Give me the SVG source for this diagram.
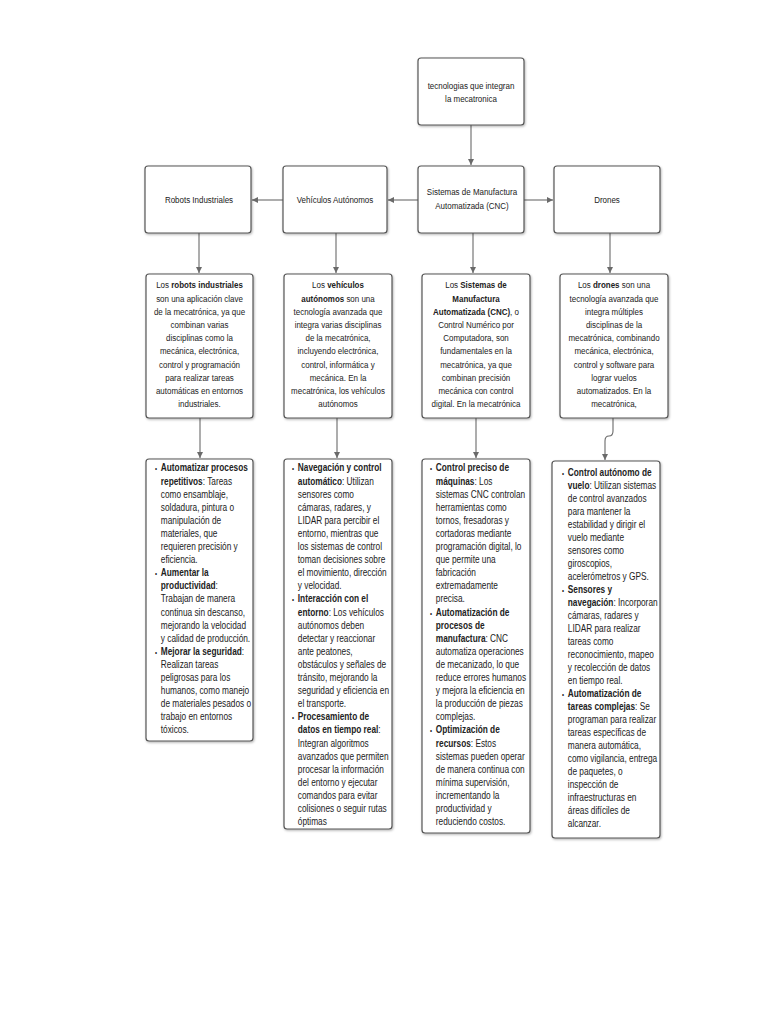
<svg xmlns="http://www.w3.org/2000/svg" width="768" height="1024" viewBox="0 0 768 1024">
<defs>
<style>
.box{fill:#fff;stroke:#555;stroke-width:1.2;filter:url(#sh)}
.t{font-family:"Liberation Sans",Arial,sans-serif;font-size:9.6px;fill:#222}
.t3{font-family:"Liberation Sans",Arial,sans-serif;font-size:10px;fill:#222}
.m{text-anchor:middle}
.b{font-weight:bold}
.bu{font-size:7px}
.c{fill:none;stroke:#6a6a6a;stroke-width:1.1;marker-end:url(#ah)}
</style>
<filter id="sh" x="-10%" y="-10%" width="130%" height="130%">
<feDropShadow dx="0.8" dy="1.2" stdDeviation="0.8" flood-color="#000" flood-opacity="0.3"/>
</filter>
<marker id="ah" markerUnits="userSpaceOnUse" markerWidth="7" markerHeight="7" refX="6" refY="3" orient="auto">
<path d="M0,0 L6,3 L0,6 z" fill="#6a6a6a"/>
</marker>
</defs>
<rect width="768" height="1024" fill="#fff"/>

<g id="connectors">
<path class="c" d="M471,125 V165"/>
<path class="c" d="M418,200 H388"/>
<path class="c" d="M283,200 H252"/>
<path class="c" d="M524,200 H553"/>
<path class="c" d="M199,233 V273"/>
<path class="c" d="M336,233 V273"/>
<path class="c" d="M473,233 V273"/>
<path class="c" d="M610,233 V273"/>
<path class="c" d="M200,418 V458"/>
<path class="c" d="M337,418 V458"/>
<path class="c" d="M476,418 V458"/>
<path class="c" d="M613,418 V431 Q613,436 609,436 Q605,436 605,441 V460"/>
</g>

<g id="n-top">
<rect class="box" x="418" y="58" width="106" height="67" rx="3"/>
<g transform="translate(471,0) scale(0.83,1)">
<text class="t m" x="0" y="89">tecnologias que integran</text>
<text class="t m" x="0" y="102">la mecatronica</text>
</g>
</g>

<g id="n-robots">
<rect class="box" x="145" y="166" width="106" height="67" rx="3"/>
<g transform="translate(199,0) scale(0.83,1)">
<text class="t m" x="0" y="203.5">Robots Industriales</text>
</g>
</g>
<g id="n-vehiculos">
<rect class="box" x="283" y="166" width="104" height="67" rx="3"/>
<g transform="translate(335,0) scale(0.83,1)">
<text class="t m" x="0" y="203.5">Vehículos Autónomos</text>
</g>
</g>
<g id="n-sistemas">
<rect class="box" x="418" y="166" width="106" height="67" rx="3"/>
<g transform="translate(472,0) scale(0.83,1)">
<text class="t m" x="0" y="195">Sistemas de Manufactura</text>
<text class="t m" x="0" y="209">Automatizada (CNC)</text>
</g>
</g>
<g id="n-drones">
<rect class="box" x="554" y="166" width="106" height="67" rx="3"/>
<g transform="translate(607,0) scale(0.83,1)">
<text class="t m" x="0" y="203.5">Drones</text>
</g>
</g>

<g id="d-robots">
<rect class="box" x="146" y="274" width="107" height="144" rx="3"/>
<g transform="translate(199.5,0) scale(0.83,1)">
<text class="t m" x="0" y="288.5">Los <tspan class="b">robots industriales</tspan></text>
<text class="t m" x="0" y="301.7">son una aplicación clave</text>
<text class="t m" x="0" y="314.9">de la mecatrónica, ya que</text>
<text class="t m" x="0" y="328.1">combinan varias</text>
<text class="t m" x="0" y="341.3">disciplinas como la</text>
<text class="t m" x="0" y="354.5">mecánica, electrónica,</text>
<text class="t m" x="0" y="367.7">control y programación</text>
<text class="t m" x="0" y="380.9">para realizar tareas</text>
<text class="t m" x="0" y="394.1">automáticas en entornos</text>
<text class="t m" x="0" y="407.3">industriales.</text>
</g>
</g>
<g id="d-vehiculos">
<rect class="box" x="284" y="274" width="108" height="144" rx="3"/>
<g transform="translate(338,0) scale(0.83,1)">
<text class="t m" x="0" y="288.5">Los <tspan class="b">vehículos</tspan></text>
<text class="t m" x="0" y="301.7"><tspan class="b">autónomos</tspan> son una</text>
<text class="t m" x="0" y="314.9">tecnología avanzada que</text>
<text class="t m" x="0" y="328.1">integra varias disciplinas</text>
<text class="t m" x="0" y="341.3">de la mecatrónica,</text>
<text class="t m" x="0" y="354.5">incluyendo electrónica,</text>
<text class="t m" x="0" y="367.7">control, informática y</text>
<text class="t m" x="0" y="380.9">mecánica. En la</text>
<text class="t m" x="0" y="394.1">mecatrónica, los vehículos</text>
<text class="t m" x="0" y="407.3">autónomos</text>
</g>
</g>
<g id="d-sistemas">
<rect class="box" x="422" y="274" width="108" height="144" rx="3"/>
<g transform="translate(476,0) scale(0.83,1)">
<text class="t m" x="0" y="288.5">Los <tspan class="b">Sistemas de</tspan></text>
<text class="t m b" x="0" y="301.7">Manufactura</text>
<text class="t m" x="0" y="314.9"><tspan class="b">Automatizada (CNC)</tspan>, o</text>
<text class="t m" x="0" y="328.1">Control Numérico por</text>
<text class="t m" x="0" y="341.3">Computadora, son</text>
<text class="t m" x="0" y="354.5">fundamentales en la</text>
<text class="t m" x="0" y="367.7">mecatrónica, ya que</text>
<text class="t m" x="0" y="380.9">combinan precisión</text>
<text class="t m" x="0" y="394.1">mecánica con control</text>
<text class="t m" x="0" y="407.3">digital. En la mecatrónica</text>
</g>
</g>
<g id="d-drones">
<rect class="box" x="560" y="274" width="108" height="144" rx="3"/>
<g transform="translate(614,0) scale(0.83,1)">
<text class="t m" x="0" y="288.5">Los <tspan class="b">drones</tspan> son una</text>
<text class="t m" x="0" y="301.7">tecnología avanzada que</text>
<text class="t m" x="0" y="314.9">integra múltiples</text>
<text class="t m" x="0" y="328.1">disciplinas de la</text>
<text class="t m" x="0" y="341.3">mecatrónica, combinando</text>
<text class="t m" x="0" y="354.5">mecánica, electrónica,</text>
<text class="t m" x="0" y="367.7">control y software para</text>
<text class="t m" x="0" y="380.9">lograr vuelos</text>
<text class="t m" x="0" y="394.1">automatizados. En la</text>
<text class="t m" x="0" y="407.3">mecatrónica,</text>
</g>
</g>

<g id="l-robots">
<rect class="box" x="146" y="459" width="107" height="282" rx="3"/>
<g transform="translate(155,0) scale(0.83,1)">
<text class="t3 bu" x="0" y="471.5">•</text>
<text class="t3 b" x="7" y="471.5">Automatizar procesos</text>
<text class="t3" x="7" y="484.6"><tspan class="b">repetitivos</tspan>: Tareas</text>
<text class="t3" x="7" y="497.7">como ensamblaje,</text>
<text class="t3" x="7" y="510.8">soldadura, pintura o</text>
<text class="t3" x="7" y="523.9">manipulación de</text>
<text class="t3" x="7" y="537.0">materiales, que</text>
<text class="t3" x="7" y="550.1">requieren precisión y</text>
<text class="t3" x="7" y="563.2">eficiencia.</text>
<text class="t3 bu" x="0" y="576.3">•</text>
<text class="t3 b" x="7" y="576.3">Aumentar la</text>
<text class="t3" x="7" y="589.4"><tspan class="b">productividad</tspan>:</text>
<text class="t3" x="7" y="602.5">Trabajan de manera</text>
<text class="t3" x="7" y="615.6">continua sin descanso,</text>
<text class="t3" x="7" y="628.7">mejorando la velocidad</text>
<text class="t3" x="7" y="641.8">y calidad de producción.</text>
<text class="t3 bu" x="0" y="654.9">•</text>
<text class="t3" x="7" y="654.9"><tspan class="b">Mejorar la seguridad</tspan>:</text>
<text class="t3" x="7" y="668.0">Realizan tareas</text>
<text class="t3" x="7" y="681.1">peligrosas para los</text>
<text class="t3" x="7" y="694.2">humanos, como manejo</text>
<text class="t3" x="7" y="707.3">de materiales pesados o</text>
<text class="t3" x="7" y="720.4">trabajo en entornos</text>
<text class="t3" x="7" y="733.5">tóxicos.</text>
</g>
</g>

<g id="l-vehiculos">
<rect class="box" x="284" y="459" width="108" height="370" rx="3"/>
<g transform="translate(292,0) scale(0.83,1)">
<text class="t3 bu" x="0" y="471.5">•</text>
<text class="t3 b" x="7" y="471.5">Navegación y control</text>
<text class="t3" x="7" y="484.6"><tspan class="b">automático</tspan>: Utilizan</text>
<text class="t3" x="7" y="497.7">sensores como</text>
<text class="t3" x="7" y="510.8">cámaras, radares, y</text>
<text class="t3" x="7" y="523.9">LIDAR para percibir el</text>
<text class="t3" x="7" y="537.0">entorno, mientras que</text>
<text class="t3" x="7" y="550.1">los sistemas de control</text>
<text class="t3" x="7" y="563.2">toman decisiones sobre</text>
<text class="t3" x="7" y="576.3">el movimiento, dirección</text>
<text class="t3" x="7" y="589.4">y velocidad.</text>
<text class="t3 bu" x="0" y="602.5">•</text>
<text class="t3 b" x="7" y="602.5">Interacción con el</text>
<text class="t3" x="7" y="615.6"><tspan class="b">entorno</tspan>: Los vehículos</text>
<text class="t3" x="7" y="628.7">autónomos deben</text>
<text class="t3" x="7" y="641.8">detectar y reaccionar</text>
<text class="t3" x="7" y="654.9">ante peatones,</text>
<text class="t3" x="7" y="668.0">obstáculos y señales de</text>
<text class="t3" x="7" y="681.1">tránsito, mejorando la</text>
<text class="t3" x="7" y="694.2">seguridad y eficiencia en</text>
<text class="t3" x="7" y="707.3">el transporte.</text>
<text class="t3 bu" x="0" y="720.4">•</text>
<text class="t3 b" x="7" y="720.4">Procesamiento de</text>
<text class="t3" x="7" y="733.5"><tspan class="b">datos en tiempo real</tspan>:</text>
<text class="t3" x="7" y="746.6">Integran algoritmos</text>
<text class="t3" x="7" y="759.7">avanzados que permiten</text>
<text class="t3" x="7" y="772.8">procesar la información</text>
<text class="t3" x="7" y="785.9">del entorno y ejecutar</text>
<text class="t3" x="7" y="799.0">comandos para evitar</text>
<text class="t3" x="7" y="812.1">colisiones o seguir rutas</text>
<text class="t3" x="7" y="825.2">óptimas</text>
</g>
</g>

<g id="l-sistemas">
<rect class="box" x="422" y="459" width="108" height="374" rx="3"/>
<g transform="translate(430,0) scale(0.83,1)">
<text class="t3 bu" x="0" y="471.5">•</text>
<text class="t3 b" x="7" y="471.5">Control preciso de</text>
<text class="t3" x="7" y="484.6"><tspan class="b">máquinas</tspan>: Los</text>
<text class="t3" x="7" y="497.7">sistemas CNC controlan</text>
<text class="t3" x="7" y="510.8">herramientas como</text>
<text class="t3" x="7" y="523.9">tornos, fresadoras y</text>
<text class="t3" x="7" y="537.0">cortadoras mediante</text>
<text class="t3" x="7" y="550.1">programación digital, lo</text>
<text class="t3" x="7" y="563.2">que permite una</text>
<text class="t3" x="7" y="576.3">fabricación</text>
<text class="t3" x="7" y="589.4">extremadamente</text>
<text class="t3" x="7" y="602.5">precisa.</text>
<text class="t3 bu" x="0" y="615.6">•</text>
<text class="t3 b" x="7" y="615.6">Automatización de</text>
<text class="t3 b" x="7" y="628.7">procesos de</text>
<text class="t3" x="7" y="641.8"><tspan class="b">manufactura</tspan>: CNC</text>
<text class="t3" x="7" y="654.9">automatiza operaciones</text>
<text class="t3" x="7" y="668.0">de mecanizado, lo que</text>
<text class="t3" x="7" y="681.1">reduce errores humanos</text>
<text class="t3" x="7" y="694.2">y mejora la eficiencia en</text>
<text class="t3" x="7" y="707.3">la producción de piezas</text>
<text class="t3" x="7" y="720.4">complejas.</text>
<text class="t3 bu" x="0" y="733.5">•</text>
<text class="t3 b" x="7" y="733.5">Optimización de</text>
<text class="t3" x="7" y="746.6"><tspan class="b">recursos</tspan>: Estos</text>
<text class="t3" x="7" y="759.7">sistemas pueden operar</text>
<text class="t3" x="7" y="772.8">de manera continua con</text>
<text class="t3" x="7" y="785.9">mínima supervisión,</text>
<text class="t3" x="7" y="799.0">incrementando la</text>
<text class="t3" x="7" y="812.1">productividad y</text>
<text class="t3" x="7" y="825.2">reduciendo costos.</text>
</g>
</g>

<g id="l-drones">
<rect class="box" x="552" y="461" width="108" height="377" rx="3"/>
<g transform="translate(562,0) scale(0.83,1)">
<text class="t3 bu" x="0" y="476.5">•</text>
<text class="t3 b" x="7" y="476.5">Control autónomo de</text>
<text class="t3" x="7" y="489.5"><tspan class="b">vuelo</tspan>: Utilizan sistemas</text>
<text class="t3" x="7" y="502.4">de control avanzados</text>
<text class="t3" x="7" y="515.4">para mantener la</text>
<text class="t3" x="7" y="528.4">estabilidad y dirigir el</text>
<text class="t3" x="7" y="541.3">vuelo mediante</text>
<text class="t3" x="7" y="554.3">sensores como</text>
<text class="t3" x="7" y="567.3">giroscopios,</text>
<text class="t3" x="7" y="580.3">acelerómetros y GPS.</text>
<text class="t3 bu" x="0" y="593.2">•</text>
<text class="t3 b" x="7" y="593.2">Sensores y</text>
<text class="t3" x="7" y="606.2"><tspan class="b">navegación</tspan>: Incorporan</text>
<text class="t3" x="7" y="619.1">cámaras, radares y</text>
<text class="t3" x="7" y="632.1">LIDAR para realizar</text>
<text class="t3" x="7" y="645.1">tareas como</text>
<text class="t3" x="7" y="658.0">reconocimiento, mapeo</text>
<text class="t3" x="7" y="671.0">y recolección de datos</text>
<text class="t3" x="7" y="684.0">en tiempo real.</text>
<text class="t3 bu" x="0" y="696.9">•</text>
<text class="t3 b" x="7" y="696.9">Automatización de</text>
<text class="t3" x="7" y="709.9"><tspan class="b">tareas complejas</tspan>: Se</text>
<text class="t3" x="7" y="722.9">programan para realizar</text>
<text class="t3" x="7" y="735.8">tareas específicas de</text>
<text class="t3" x="7" y="748.8">manera automática,</text>
<text class="t3" x="7" y="761.8">como vigilancia, entrega</text>
<text class="t3" x="7" y="774.7">de paquetes, o</text>
<text class="t3" x="7" y="787.7">inspección de</text>
<text class="t3" x="7" y="800.7">infraestructuras en</text>
<text class="t3" x="7" y="813.6">áreas difíciles de</text>
<text class="t3" x="7" y="826.6">alcanzar.</text>
</g>
</g>
</svg>
